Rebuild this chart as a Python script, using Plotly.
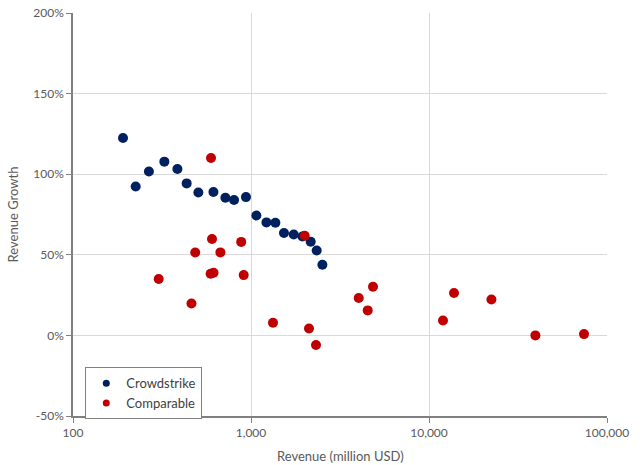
import plotly.graph_objects as go

# Crowdstrike: revenue (million USD) vs revenue growth (%)
cs_revenue = [191, 225, 267, 326, 386, 435, 506, 615, 718, 803, 937,
              1072, 1221, 1371, 1532, 1738, 1945, 2165, 2339, 2518]
cs_growth = [122.5, 92.4, 101.7, 107.8, 103.2, 94.3, 88.7, 89.0, 85.4, 84.0, 85.8,
             74.4, 70.1, 69.9, 63.5, 62.6, 61.4, 58.1, 52.7, 43.8]

# Comparable companies
cmp_revenue = [596, 604, 486, 673, 881, 303, 593, 616, 910, 463, 1329,
               2118, 2318, 2003, 4029, 4846, 4525, 11985, 13818, 22422, 39600, 74270]
cmp_growth = [110.1, 59.8, 51.4, 51.5, 58.0, 35.0, 38.2, 38.9, 37.4, 19.8, 7.8,
              4.3, -6.0, 61.8, 23.2, 30.2, 15.5, 9.2, 26.3, 22.3, 0.0, 0.8]

x_ticks = [100, 1000, 10000, 100000]
x_labels = ["100", "1,000", "10,000", "100,000"]
y_ticks = [-50, 0, 50, 100, 150, 200]
y_labels = ["-50%", "0%", "50%", "100%", "150%", "200%"]

grey = "#595959"
navy = "#002060"
red = "#C00000"

fig = go.Figure()
fig.add_trace(go.Scatter(
    x=cs_revenue, y=cs_growth, mode="markers", name="Crowdstrike",
    marker=dict(size=10, color=navy), showlegend=False,
))
fig.add_trace(go.Scatter(
    x=cmp_revenue, y=cmp_growth, mode="markers", name="Comparable",
    marker=dict(size=10, color=red), showlegend=False,
))
# legend entries with smaller symbols, like the original
fig.add_trace(go.Scatter(x=[None], y=[None], mode="markers", name="Crowdstrike",
                         marker=dict(size=7, color=navy)))
fig.add_trace(go.Scatter(x=[None], y=[None], mode="markers", name="Comparable",
                         marker=dict(size=7, color=red)))

fig.update_layout(
    width=640, height=465,
    margin=dict(l=73, r=33, t=13, b=49),
    plot_bgcolor="white", paper_bgcolor="white",
    font=dict(family="Lato, Open Sans, sans-serif", size=12, color=grey),
    legend=dict(
        x=0.023, y=0.121, xanchor="left", yanchor="top",
        bordercolor="#808080", borderwidth=1, bgcolor="white",
        font=dict(size=13, color="#404040"),
        tracegroupgap=0, itemwidth=30,
    ),
    xaxis=dict(
        type="log", range=[2, 5], automargin=False,
        tickvals=x_ticks, ticktext=x_labels,
        showgrid=True, gridcolor="#D9D9D9", gridwidth=1,
        showline=True, linecolor="#808080", linewidth=1.5,
        ticks="outside", ticklen=5, tickcolor="#808080",
        tickfont=dict(size=12, color=grey), ticklabeloverflow="allow",
        zeroline=False,
    ),
    yaxis=dict(
        range=[-50, 200], automargin=False,
        tickvals=y_ticks, ticktext=y_labels,
        showgrid=True, gridcolor="#D9D9D9", gridwidth=1,
        showline=True, linecolor="#808080", linewidth=1.5,
        ticks="outside", ticklen=5, tickcolor="#808080",
        tickfont=dict(size=12, color=grey), ticklabeloverflow="allow",
        title=dict(text="Revenue Growth", font=dict(size=13, color=grey), standoff=12),
        zeroline=False,
    ),
)

# x axis title placed below the tick labels
fig.add_annotation(
    text="Revenue (million USD)", xref="paper", yref="paper", x=0.5, y=0,
    yshift=-40, yanchor="middle", showarrow=False,
    font=dict(size=13, color=grey),
)

# remove the default 8px page margin so the figure sits at the window corner
fig.write_html("out.html", config={"displayModeBar": False},
               post_script="document.body.style.margin='0';")
